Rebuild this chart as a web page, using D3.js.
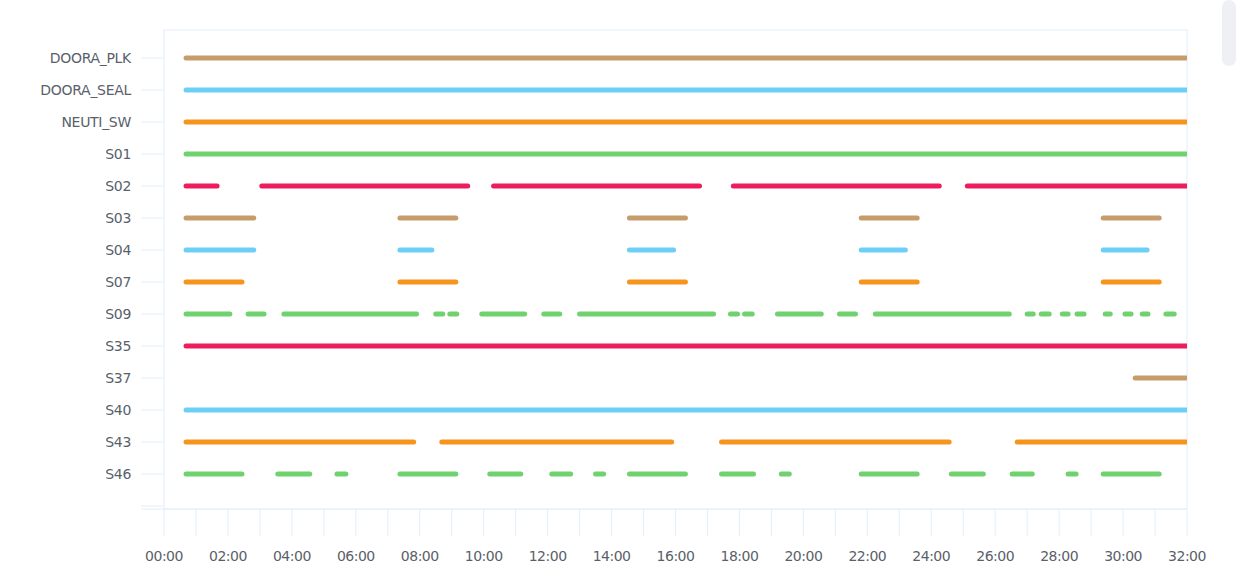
<!DOCTYPE html>
<html>
<head>
<meta charset="utf-8">
<script src="https://cdn.jsdelivr.net/npm/d3@7"></script>
<style>body{margin:0;background:#fff;} text{font-family:"DejaVu Sans",sans-serif;}</style>
</head>
<body>
<svg width="1240" height="578" id="mainsvg"></svg>
<script>
const rows = ['DOORA_PLK','DOORA_SEAL','NEUTI_SW','S01','S02','S03','S04','S07','S09','S35','S37','S40','S43','S46'];
const colors = ['#c69c6d','#6dcff6','#f7941d','#6fd26f','#ed1c5c'];
// segments in hours [start, end] per row
const segDOORA_PLK = [[0.69,32]];
const segDOORA_SEAL = [[0.69,32]];
const segNEUTI_SW = [[0.69,32]];
const segS01 = [[0.69,32]];
const segS02 = [[0.69,1.66],[3.06,9.5],[10.31,16.75],[17.81,24.25],[25.13,32]];
const segS03 = [[0.69,2.81],[7.38,9.13],[14.56,16.31],[21.81,23.56],[29.38,31.13]];
const segS04 = [[0.69,2.81],[7.38,8.38],[14.56,15.94],[21.81,23.19],[29.38,30.75]];
const segS07 = [[0.69,2.44],[7.38,9.13],[14.56,16.31],[21.81,23.56],[29.38,31.13]];
const segS09 = [[0.69,2.06],[2.63,3.13],[3.75,7.9],[8.5,8.72],[8.94,9.16],[9.94,11.28],[11.88,12.38],
  [13.0,17.19],[17.72,17.94],[18.16,18.4],[19.19,20.56],[21.13,21.63],[22.25,26.44],[27.0,27.19],
  [27.44,27.69],[28.1,28.28],[28.56,28.78],[29.44,29.6],[30.06,30.25],[30.6,30.78],[31.34,31.6]];
const segS35 = [[0.69,32]];
const segS37 = [[30.38,32]];
const segS40 = [[0.69,32]];
const segS43 = [[0.69,7.81],[8.69,15.88],[17.44,24.56],[26.69,32]];
const segS46 = [[0.69,2.44],[3.56,4.56],[5.41,5.69],[7.38,9.13],[10.19,11.16],[12.13,12.72],[13.5,13.75],
  [14.56,16.31],[17.44,18.44],[19.31,19.56],[21.81,23.56],[24.63,25.63],[26.53,27.16],[28.28,28.53],[29.38,31.13]];
const segs = [segDOORA_PLK,segDOORA_SEAL,segNEUTI_SW,segS01,segS02,segS03,segS04,segS07,segS09,segS35,segS37,segS40,segS43,segS46];
const hourTicks = d3.range(0,33,1);

const svg = d3.select('#mainsvg');
const x = d3.scaleLinear().domain([0,32]).range([164,1187]);
const y = d3.scalePoint().domain(rows).range([58,474]);
const grid = '#e3eefb';

svg.append('clipPath').attr('id','plotclip').append('rect')
  .attr('x',164).attr('y',30).attr('width',1023).attr('height',479);

// frame
svg.append('rect').attr('x',164).attr('y',30).attr('width',1023).attr('height',479)
  .attr('fill','none').attr('stroke',grid);

// y ticks and labels
const yTicks = rows.map(r => y(r)).concat([506]);
svg.selectAll('.yt').data(yTicks).join('line').attr('class','yt')
  .attr('x1',141).attr('x2',164).attr('y1',d=>d).attr('y2',d=>d).attr('stroke',grid);
svg.selectAll('.yl').data(rows).join('text').attr('class','yl')
  .attr('x',131).attr('y',d=>y(d)).attr('dy','0.35em').attr('text-anchor','end')
  .attr('font-size',14).attr('letter-spacing',-0.3).attr('fill','#5a5f6b').text(d=>d);

// x axis
svg.append('line').attr('x1',141).attr('x2',1187).attr('y1',509).attr('y2',509).attr('stroke',grid);
svg.selectAll('.xt').data(hourTicks).join('line').attr('class','xt')
  .attr('x1',d=>x(d)).attr('x2',d=>x(d)).attr('y1',509).attr('y2',536).attr('stroke',grid);
svg.selectAll('.xl').data(hourTicks.filter(d=>d%2===0)).join('text').attr('class','xl')
  .attr('x',d=>x(d)).attr('y',561).attr('text-anchor','middle')
  .attr('font-size',14).attr('letter-spacing',-0.5).attr('fill','#5a5f6b')
  .text(d=>String(d).padStart(2,'0')+':00');

// segments
const plot = svg.append('g').attr('clip-path','url(#plotclip)');
rows.forEach((r,i) => {
  plot.selectAll('.s'+i).data(segs[i]).join('line').attr('class','s'+i)
    .attr('x1',d=>x(d[0])).attr('x2',d=>x(d[1]))
    .attr('y1',y(r)).attr('y2',y(r))
    .attr('stroke',colors[i%5]).attr('stroke-width',5).attr('stroke-linecap','round');
});

// scrollbar
svg.append('rect').attr('x',1222).attr('y',0).attr('width',14).attr('height',66).attr('rx',7)
  .attr('fill','#eef0f4');
</script>
</body>
</html>
